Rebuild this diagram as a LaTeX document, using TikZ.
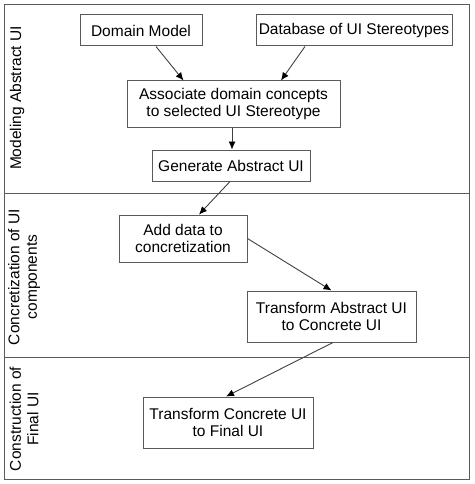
\documentclass[tikz,border=0pt]{standalone}
\usepackage{fontspec}
\setmainfont{Liberation Sans}
\usetikzlibrary{arrows.meta}
\definecolor{linegray}{HTML}{5A5A5A}
\definecolor{arrowgray}{HTML}{404040}
\tikzset{
  procbox/.style={draw=linegray, line width=1pt, fill=white, inner sep=2pt, align=center, font=\fontsize{15.5}{17.5}\selectfont},
  flow/.style={draw=arrowgray, line width=0.9pt, -{Latex[length=8pt,width=7pt,color=black]}},
  lane/.style={draw=linegray, line width=1pt},
  lanelabel/.style={rotate=90, align=center, font=\fontsize{15.5}{17.5}\selectfont}
}
\begin{document}
\begin{tikzpicture}[x=1pt,y=-1pt]
\useasboundingbox (0,0) rectangle (474,484);
\draw[lane] (4,5) rectangle (469,479);
\draw[lane] (4,193) -- (469,193);
\draw[lane] (4,357) -- (469,357);
\node[lanelabel] (l1) at (17,98) {Modeling Abstract UI};
\node[lanelabel] (l2) at (24,277) {Concretization of UI\\components};
\node[lanelabel] (l3) at (24,419) {Construction of\\Final UI};
\node[procbox, minimum width=122pt, minimum height=31pt] (dm) at (141,30.5) {Domain Model};
\node[procbox, minimum width=196pt, minimum height=31pt] (db) at (354,30.5) {Database of UI Stereotypes};
\node[procbox, minimum width=213pt, minimum height=46pt] (assoc) at (233.5,104) {Associate domain concepts\\to selected UI Stereotype};
\node[procbox, minimum width=158pt, minimum height=31pt] (gen) at (231,165.5) {Generate Abstract UI};
\node[procbox, minimum width=128pt, minimum height=47pt] (add) at (183,238.5) {Add data to\\concretization};
\node[procbox, minimum width=169pt, minimum height=51pt] (tau) at (331.5,316.5) {Transform Abstract UI\\to Concrete UI};
\node[procbox, minimum width=170pt, minimum height=51pt] (tcf) at (228,422.5) {Transform Concrete UI\\to Final UI};
\draw[flow] ([xshift=15pt]dm.south) -- ([xshift=-50pt]assoc.north);
\draw[flow] ([xshift=-49pt]db.south) -- ([xshift=47.5pt]assoc.north);
\draw[flow] ([xshift=-1.5pt]assoc.south) -- ([xshift=1pt]gen.north);
\draw[flow] ([xshift=-1pt]gen.south) -- ([xshift=16pt]add.north);
\draw[flow] (add.east) -- (tau.north);
\draw[flow] ([xshift=1.5pt]tau.south) -- ([xshift=-2pt]tcf.north);
\end{tikzpicture}
\end{document}
